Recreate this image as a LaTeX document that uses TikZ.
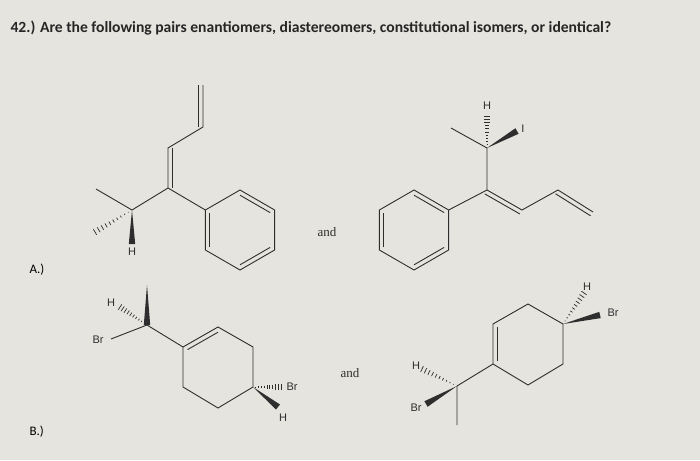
\documentclass[tikz,border=0pt]{standalone}
\usepackage{fontspec}
\setmainfont{Carlito}
\newfontfamily\atomf{Liberation Sans}
\newfontfamily\serf{Liberation Serif}
\usetikzlibrary{calc}
\definecolor{bg}{HTML}{E6E4DF}
\definecolor{ink}{HTML}{2E2E2E}
\tikzset{bond/.style={draw=ink,line width=0.9pt},
 atom/.style={font=\atomf\fontsize{11}{11}\selectfont,text=ink,inner sep=1pt},
 andlbl/.style={font=\serf\fontsize{13}{13}\selectfont,text=ink}}
\newcommand\wedgeb[2]{\fill[ink] (#1) -- ($(#2)!3.2pt!90:(#1)$) -- ($(#2)!3.2pt!-90:(#1)$) -- cycle;}
\newcommand\hashb[2]{\foreach \t in {0.1,0.2,...,1.0}{\draw[ink,line width=0.7pt] ($($(#1)!\t!(#2)$)!3.2pt*\t!90:(#2)$) -- ($($(#1)!\t!(#2)$)!3.2pt*\t!-90:(#2)$);}}
\newcommand\ringdb[3]{\draw[bond] ($(#1)!0.13!(#3)$) -- ($(#2)!0.13!(#3)$);}
\newcommand\dbl[2]{\draw[bond] ($(#1)!4.5pt!90:(#2)$) -- ($(#2)!4.5pt!-90:(#1)$);}
\begin{document}
\begin{tikzpicture}[x=1pt,y=-1pt]
\fill[bg] (0,0) rectangle (700,460);
\useasboundingbox (0,0) rectangle (700,460);
\node[anchor=west,font=\fontsize{15.6}{15.6}\selectfont\bfseries,text=black!85] (title) at (7,28) {42.) Are the following pairs enantiomers, diastereomers, constitutional isomers, or identical?};
\node[anchor=west,font=\fontsize{13}{13}\selectfont] (la) at (26,270) {A.)};
\node[anchor=west,font=\fontsize{13}{13}\selectfont] (lb) at (26,432) {B.)};
\node[andlbl] (and1) at (327,232) {and};
\node[andlbl] (and2) at (350,373) {and};
% ---- A1
\coordinate (a1) at (203,85); \coordinate (a2) at (203,127);
\coordinate (a3) at (168,148); \coordinate (a4) at (168,188);
\coordinate (a5) at (132,210); \coordinate (a6) at (96,189);
\coordinate (a7) at (95,232); \coordinate (a8) at (132,244);
\draw[bond] (a1)--(a2)--(a3)--(a4)--(a5)--(a6);
\dbl{a2}{a1} \dbl{a3}{a4}
\hashb{a5}{a7} \wedgeb{a5}{a8}
\node[atom] (ha) at (132,252) {H};
\coordinate (rc1) at (240,230);
\foreach \i/\a in {1/210,2/270,3/330,4/30,5/90,6/150}{\coordinate (p\i) at ($(rc1)+(\a:40)$);}
\draw[bond] (a4)--(p1);
\draw[bond] (p1)--(p2)--(p3)--(p4)--(p5)--(p6)--cycle;
\ringdb{p2}{p3}{rc1} \ringdb{p4}{p5}{rc1} \ringdb{p6}{p1}{rc1}
% ---- A2
\coordinate (b1) at (487,148); \coordinate (b2) at (487,190);
\coordinate (b3) at (522,210); \coordinate (b4) at (558,190);
\coordinate (b5) at (593,212); \coordinate (b6) at (451,128);
\coordinate (bh) at (487,116); \coordinate (bi) at (517,131);
\draw[bond] (b6)--(b1)--(b2)--(b3)--(b4)--(b5);
\dbl{b3}{b2} \dbl{b5}{b4}
\hashb{b1}{bh} \wedgeb{b1}{bi}
\node[atom] (hb) at (487,106) {H};
\node[atom] (ib) at (523,129) {I};
\coordinate (rc2) at (414,230);
\foreach \i/\a in {1/30,2/90,3/150,4/210,5/270,6/330}{\coordinate (q\i) at ($(rc2)+(\a:40)$);}
\draw[bond] (b2)--(q6);
\draw[bond] (q1)--(q2)--(q3)--(q4)--(q5)--(q6)--cycle;
\ringdb{q1}{q2}{rc2} \ringdb{q3}{q4}{rc2} \ringdb{q5}{q6}{rc2}
% ---- B1
\coordinate (c0) at (147,325); \coordinate (cm) at (147,285);
\coordinate (ch) at (120,307); \coordinate (cb) at (111,339);
\coordinate (r1) at (183,347); \coordinate (r2) at (218,327);
\coordinate (r3) at (253,347); \coordinate (r4) at (253,387);
\coordinate (r5) at (218,408); \coordinate (r6) at (183,387);
\coordinate (rc3) at (218,367);
\draw[bond] (cb)--(c0)--(r1);
\wedgeb{cm}{c0}
\hashb{c0}{ch}
\draw[bond] (r1)--(r2)--(r3)--(r4)--(r5)--(r6)--cycle;
\ringdb{r1}{r2}{rc3}
\coordinate (rbr) at (281,387); \coordinate (rh) at (278,407);
\hashb{r4}{rbr} \wedgeb{r4}{rh}
\node[atom] (h1) at (111,303) {H};
\node[atom] (br1) at (98,340) {Br};
\node[atom] (br2) at (292,387) {Br};
\node[atom] (h2) at (283,418) {H};
% ---- B2
\coordinate (s1) at (528,304); \coordinate (s2) at (563,324);
\coordinate (s3) at (563,364); \coordinate (s4) at (528,385);
\coordinate (s5) at (493,364); \coordinate (s6) at (493,324);
\coordinate (rc4) at (528,344);
\draw[bond] (s1)--(s2)--(s3)--(s4)--(s5)--(s6)--cycle;
\ringdb{s5}{s6}{rc4}
\coordinate (sh) at (584,293); \coordinate (sbr) at (600,315);
\hashb{s2}{sh} \wedgeb{s2}{sbr}
\node[atom] (h3) at (587,287) {H};
\node[atom] (br3) at (613,313) {Br};
\coordinate (d0) at (457,386); \coordinate (dh) at (422,369);
\coordinate (dbr) at (426,404); \coordinate (dm) at (457,425);
\draw[bond] (s5)--(d0)--(dm);
\hashb{d0}{dh} \wedgeb{d0}{dbr}
\node[atom] (h4) at (416,366) {H};
\node[atom] (br4) at (416,408) {Br};
\end{tikzpicture}
\end{document}
